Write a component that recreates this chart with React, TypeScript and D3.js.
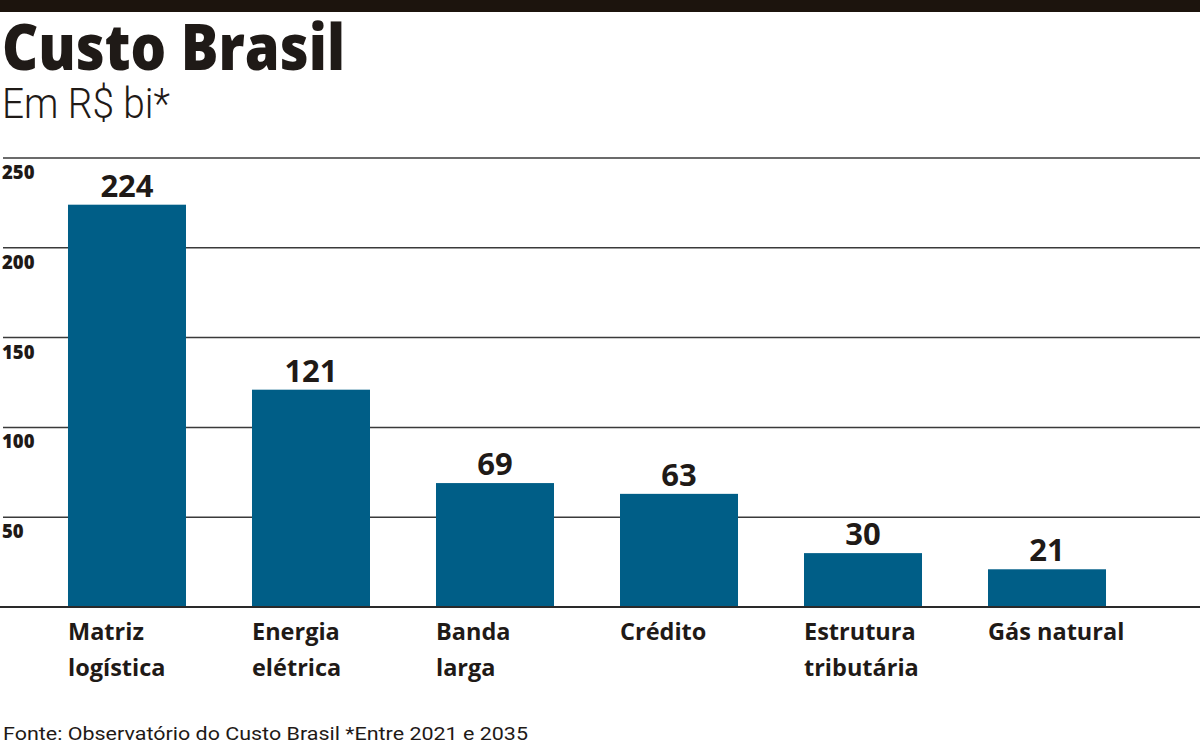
import React from "react";
import * as d3 from "d3";

const categories: string[][] = [
  ["Matriz", "logística"],
  ["Energia", "elétrica"],
  ["Banda", "larga"],
  ["Crédito"],
  ["Estrutura", "tributária"],
  ["Gás natural"],
];
const values: number[] = [224, 121, 69, 63, 30, 21];
const yTicks: number[] = [50, 100, 150, 200, 250];
const title = "Custo Brasil";
const subtitle = "Em R$ bi*";
const footer = "Fonte: Observatório do Custo Brasil *Entre 2021 e 2035";

const W = 1200;
const H = 745;
const BAR = "#005e87";
const INK = "#1f1a17";
const FONT = "'Open Sans', 'DejaVu Sans', sans-serif";

export default function App() {
  const keys = categories.map((c) => c.join(" "));
  const x = d3
    .scaleBand<string>()
    .domain(keys)
    .range([35, 1139])
    .paddingInner(0.3587)
    .paddingOuter(0.1793);
  const y = d3.scaleLinear().domain([0, 250]).range([607, 158]);

  return (
    <svg
      width={W}
      height={H}
      style={{ position: "absolute", left: 0, top: 0, background: "#fff" }}
    >
      <rect x={0} y={0} width={W} height={12} fill="#1c140d" />
      <text
        x={2}
        y={70}
        fontFamily="'Open Sans', sans-serif"
        fontWeight={800}
        fontSize={64}
        fill={INK}
        textLength={343}
        lengthAdjust="spacingAndGlyphs"
      >
        {title}
      </text>
      <text
        x={2}
        y={118}
        fontFamily="Roboto, sans-serif"
        fontWeight={300}
        fontSize={42}
        fill={INK}
        textLength={168}
        lengthAdjust="spacingAndGlyphs"
      >
        {subtitle}
      </text>

      {yTicks.map((t) => (
        <g key={t}>
          <line
            x1={3}
            x2={W}
            y1={y(t)}
            y2={y(t)}
            stroke="#3a3a3a"
            strokeWidth={1.5}
          />
          <text
            x={2}
            y={y(t) + 21}
            fontFamily={FONT}
            fontWeight={800}
            fontSize={18.5}
            fill={INK}
          >
            {t}
          </text>
        </g>
      ))}

      {values.map((v, i) => {
        const k = keys[i];
        const bx = x(k) as number;
        const bw = x.bandwidth();
        return (
          <g key={k}>
            <rect x={bx} y={y(v)} width={bw} height={y(0) - y(v)} fill={BAR} />
            <text
              x={bx + bw / 2}
              y={y(v) - 8}
              textAnchor="middle"
              fontFamily={FONT}
              fontWeight={700}
              fontSize={31}
              fill={INK}
            >
              {v}
            </text>
            {categories[i].map((line, j) => (
              <text
                key={j}
                x={bx}
                y={640 + j * 36}
                fontFamily={FONT}
                fontWeight={700}
                fontSize={23.5}
                fill={INK}
              >
                {line}
              </text>
            ))}
          </g>
        );
      })}

      <line x1={0} x2={W} y1={y(0)} y2={y(0)} stroke="#2a2a2a" strokeWidth={2} />

      <text
        x={3}
        y={740}
        fontFamily="Roboto, sans-serif"
        fontWeight={400}
        fontSize={19}
        fill={INK}
        textLength={525}
        lengthAdjust="spacingAndGlyphs"
      >
        {footer}
      </text>
    </svg>
  );
}
